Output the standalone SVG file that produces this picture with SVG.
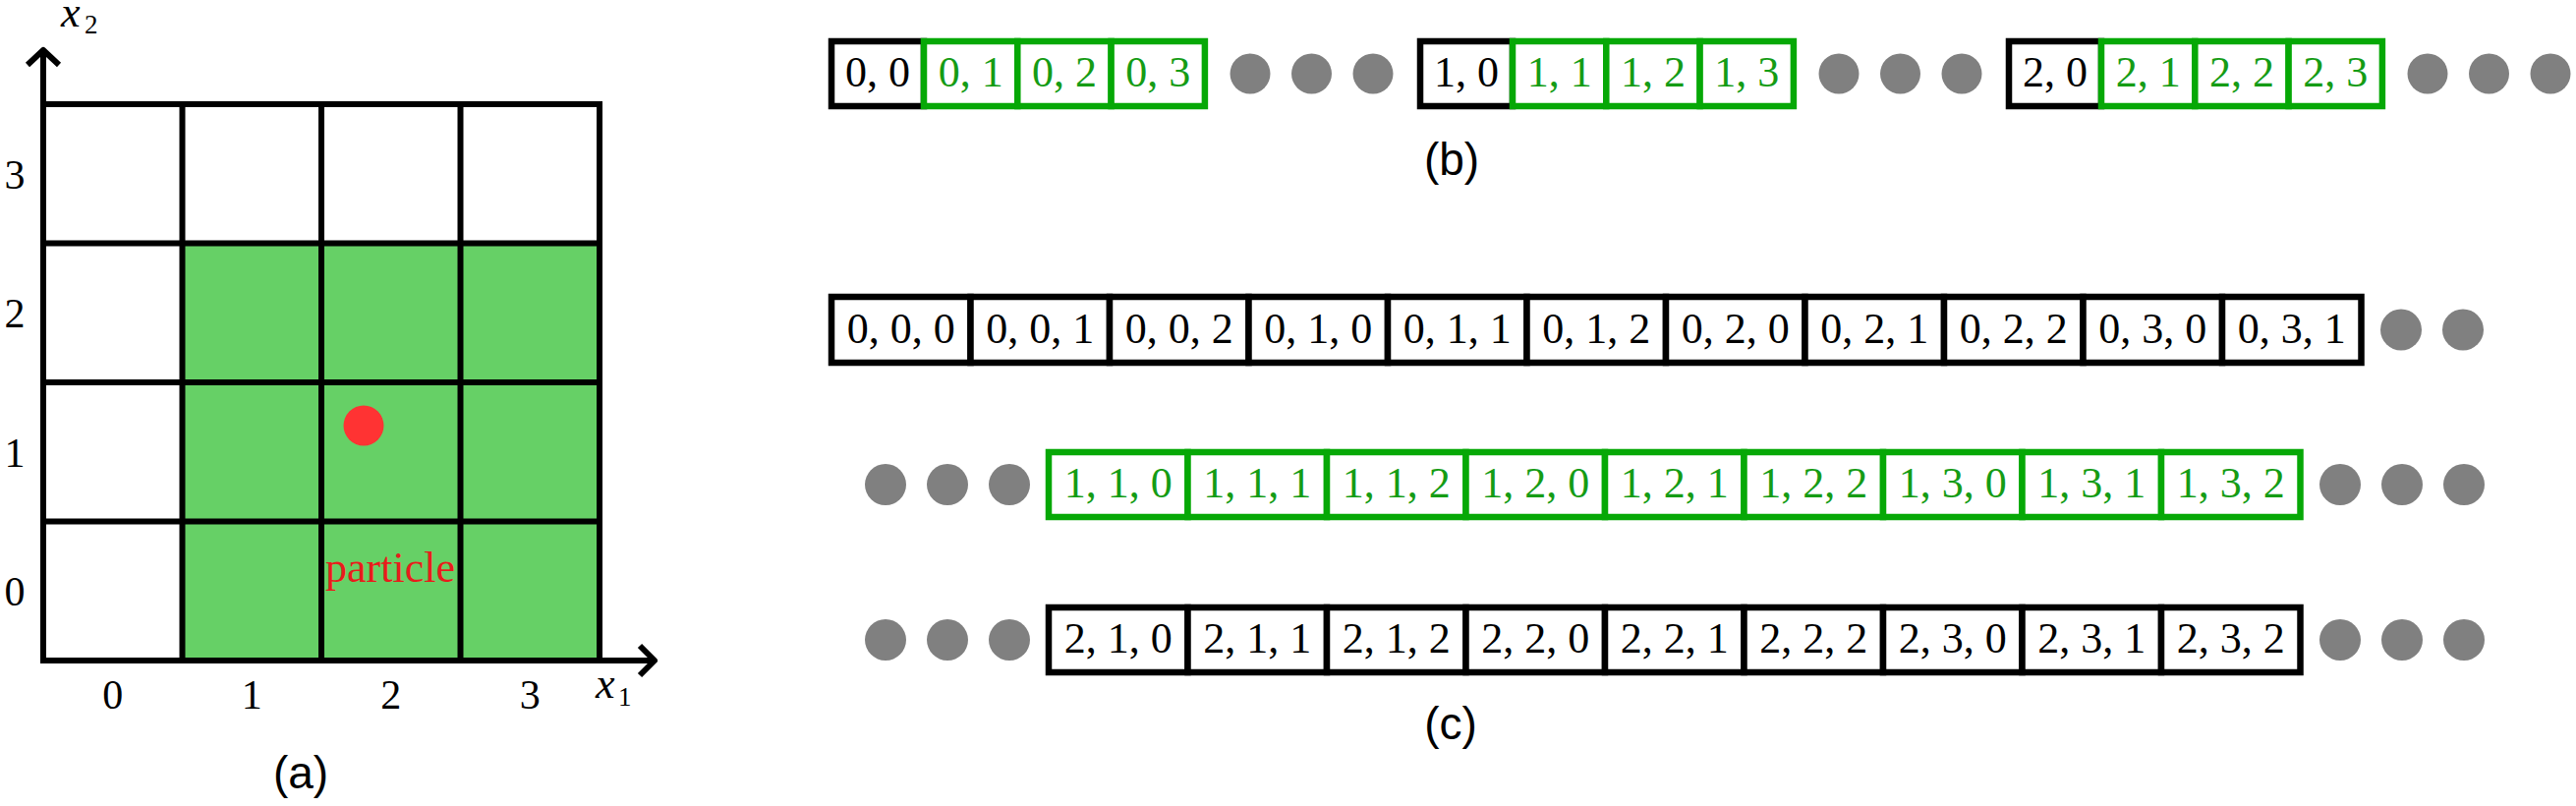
<svg xmlns="http://www.w3.org/2000/svg" width="2621" height="820" viewBox="0 0 2621 820">
<style>
.bg{fill:#ffffff}
.grid{stroke:#000;stroke-width:6;fill:none;stroke-linecap:square}
.axis{stroke:#000;stroke-width:6;fill:none}
.head{stroke:#000;stroke-width:6;fill:none;stroke-linejoin:round;stroke-linecap:butt}
.num{font-family:"Liberation Serif","Times New Roman",serif;font-size:42px;fill:#000;text-anchor:middle}
.ital{font-family:"Liberation Serif","Times New Roman",serif;font-style:italic;font-size:44px;fill:#000}
.sub{font-family:"Liberation Serif","Times New Roman",serif;font-size:27px;fill:#000}
.cap{font-family:"Liberation Sans",Arial,sans-serif;font-size:46px;fill:#000;text-anchor:middle}
.cb{fill:#fff;stroke:#000;stroke-width:6.5}
.cg{fill:#fff;stroke:#06a806;stroke-width:6.5}
.t{font-family:"Liberation Serif","Times New Roman",serif;font-size:44px;text-anchor:middle;fill:#000}
.tg{fill:#159c15}
.dot{fill:#808080}
</style>
<rect class="bg" x="0" y="0" width="2621" height="820"/>

<!-- Panel (a) -->
<g id="panel-a-fill">
<rect x="185.5" y="247.5" width="424.5" height="424.5" fill="#66d066"/>
</g>
<g id="panel-a-grid">
<line class="grid" x1="44" y1="106" x2="610" y2="106"/>
<line class="grid" x1="44" y1="247.5" x2="610" y2="247.5"/>
<line class="grid" x1="44" y1="389" x2="610" y2="389"/>
<line class="grid" x1="44" y1="530.5" x2="610" y2="530.5"/>
<line class="grid" x1="185.5" y1="106" x2="185.5" y2="672"/>
<line class="grid" x1="327" y1="106" x2="327" y2="672"/>
<line class="grid" x1="468.5" y1="106" x2="468.5" y2="672"/>
<line class="grid" x1="610" y1="106" x2="610" y2="672"/>
</g>
<g id="axes">
<line class="axis" x1="44" y1="675" x2="44" y2="51"/>
<polyline class="head" points="28,66 44,51 60,66"/>
<line class="axis" x1="41" y1="672" x2="666" y2="672"/>
<polyline class="head" points="651,657 666,672 651,687"/>
<text class="ital" x="62" y="27">x<tspan class="sub" x="86" y="34" font-style="normal">2</tspan></text>
<text class="ital" x="606" y="710">x<tspan class="sub" x="629" y="718" font-style="normal">1</tspan></text>
</g>
<g id="axis-labels">
<text class="num" x="114.75" y="721">0</text>
<text class="num" x="256.25" y="721">1</text>
<text class="num" x="397.75" y="721">2</text>
<text class="num" x="539.25" y="721">3</text>
<text class="num" x="15" y="192">3</text>
<text class="num" x="15" y="333">2</text>
<text class="num" x="15" y="475">1</text>
<text class="num" x="15" y="616">0</text>
</g>
<g id="particle">
<circle cx="370" cy="433" r="20.5" fill="#ff3333"/>
<text x="331" y="592" font-family="Liberation Serif, Times New Roman, serif" font-size="44" fill="#e81c1c">particle</text>
</g>
<text class="cap" x="306" y="802">(a)</text>

<!-- Panel (b) -->
<g id="b-group-0">
<rect class="cb" x="846" y="42" width="94" height="66"/>
<rect class="cg" x="940" y="42" width="95.3" height="66"/>
<rect class="cg" x="1035.3" y="42" width="95.3" height="66"/>
<rect class="cg" x="1130.6" y="42" width="95.3" height="66"/>
<text class="t" x="893" y="88">0, 0</text>
<text class="t tg" x="987.65" y="88">0, 1</text>
<text class="t tg" x="1082.95" y="88">0, 2</text>
<text class="t tg" x="1178.25" y="88">0, 3</text>
</g>
<g id="b-dots-0">
<circle class="dot" cx="1272" cy="75" r="20.5"/>
<circle class="dot" cx="1334.5" cy="75" r="20.5"/>
<circle class="dot" cx="1397" cy="75" r="20.5"/>
</g>
<g id="b-group-1">
<rect class="cb" x="1445" y="42" width="94" height="66"/>
<rect class="cg" x="1539" y="42" width="95.3" height="66"/>
<rect class="cg" x="1634.3" y="42" width="95.3" height="66"/>
<rect class="cg" x="1729.6" y="42" width="95.3" height="66"/>
<text class="t" x="1492" y="88">1, 0</text>
<text class="t tg" x="1586.65" y="88">1, 1</text>
<text class="t tg" x="1681.95" y="88">1, 2</text>
<text class="t tg" x="1777.25" y="88">1, 3</text>
</g>
<g id="b-dots-1">
<circle class="dot" cx="1871" cy="75" r="20.5"/>
<circle class="dot" cx="1933.5" cy="75" r="20.5"/>
<circle class="dot" cx="1996" cy="75" r="20.5"/>
</g>
<g id="b-group-2">
<rect class="cb" x="2044" y="42" width="94" height="66"/>
<rect class="cg" x="2138" y="42" width="95.3" height="66"/>
<rect class="cg" x="2233.3" y="42" width="95.3" height="66"/>
<rect class="cg" x="2328.6" y="42" width="95.3" height="66"/>
<text class="t" x="2091" y="88">2, 0</text>
<text class="t tg" x="2185.65" y="88">2, 1</text>
<text class="t tg" x="2280.95" y="88">2, 2</text>
<text class="t tg" x="2376.25" y="88">2, 3</text>
</g>
<g id="b-dots-2">
<circle class="dot" cx="2470" cy="75" r="20.5"/>
<circle class="dot" cx="2532.5" cy="75" r="20.5"/>
<circle class="dot" cx="2595" cy="75" r="20.5"/>
</g>
<text class="cap" x="1477" y="178">(b)</text>

<!-- Panel (c) row 1 -->
<g id="c-row-0">
<rect class="cb" x="846" y="302" width="141.5" height="67"/>
<rect class="cb" x="987.5" y="302" width="141.5" height="67"/>
<rect class="cb" x="1129" y="302" width="141.5" height="67"/>
<rect class="cb" x="1270.5" y="302" width="141.5" height="67"/>
<rect class="cb" x="1412" y="302" width="141.5" height="67"/>
<rect class="cb" x="1553.5" y="302" width="141.5" height="67"/>
<rect class="cb" x="1695" y="302" width="141.5" height="67"/>
<rect class="cb" x="1836.5" y="302" width="141.5" height="67"/>
<rect class="cb" x="1978" y="302" width="141.5" height="67"/>
<rect class="cb" x="2119.5" y="302" width="141.5" height="67"/>
<rect class="cb" x="2261" y="302" width="141.5" height="67"/>
<text class="t" x="916.75" y="348.5">0, 0, 0</text>
<text class="t" x="1058.25" y="348.5">0, 0, 1</text>
<text class="t" x="1199.75" y="348.5">0, 0, 2</text>
<text class="t" x="1341.25" y="348.5">0, 1, 0</text>
<text class="t" x="1482.75" y="348.5">0, 1, 1</text>
<text class="t" x="1624.25" y="348.5">0, 1, 2</text>
<text class="t" x="1765.75" y="348.5">0, 2, 0</text>
<text class="t" x="1907.25" y="348.5">0, 2, 1</text>
<text class="t" x="2048.75" y="348.5">0, 2, 2</text>
<text class="t" x="2190.25" y="348.5">0, 3, 0</text>
<text class="t" x="2331.75" y="348.5">0, 3, 1</text>
</g>
<g id="c-dots-0">
<circle class="dot" cx="2443" cy="335.5" r="21"/>
<circle class="dot" cx="2506" cy="335.5" r="21"/>
</g>

<!-- Panel (c) row 2 -->
<g id="c-dots-1l">
<circle class="dot" cx="901" cy="493" r="21"/>
<circle class="dot" cx="964" cy="493" r="21"/>
<circle class="dot" cx="1027" cy="493" r="21"/>
</g>
<g id="c-row-1">
<rect class="cg" x="1067" y="460" width="141.5" height="66"/>
<rect class="cg" x="1208.5" y="460" width="141.5" height="66"/>
<rect class="cg" x="1350" y="460" width="141.5" height="66"/>
<rect class="cg" x="1491.5" y="460" width="141.5" height="66"/>
<rect class="cg" x="1633" y="460" width="141.5" height="66"/>
<rect class="cg" x="1774.5" y="460" width="141.5" height="66"/>
<rect class="cg" x="1916" y="460" width="141.5" height="66"/>
<rect class="cg" x="2057.5" y="460" width="141.5" height="66"/>
<rect class="cg" x="2199" y="460" width="141.5" height="66"/>
<text class="t tg" x="1137.75" y="506">1, 1, 0</text>
<text class="t tg" x="1279.25" y="506">1, 1, 1</text>
<text class="t tg" x="1420.75" y="506">1, 1, 2</text>
<text class="t tg" x="1562.25" y="506">1, 2, 0</text>
<text class="t tg" x="1703.75" y="506">1, 2, 1</text>
<text class="t tg" x="1845.25" y="506">1, 2, 2</text>
<text class="t tg" x="1986.75" y="506">1, 3, 0</text>
<text class="t tg" x="2128.25" y="506">1, 3, 1</text>
<text class="t tg" x="2269.75" y="506">1, 3, 2</text>
</g>
<g id="c-dots-1r">
<circle class="dot" cx="2381" cy="493" r="21"/>
<circle class="dot" cx="2444" cy="493" r="21"/>
<circle class="dot" cx="2507" cy="493" r="21"/>
</g>

<!-- Panel (c) row 3 -->
<g id="c-dots-2l">
<circle class="dot" cx="901" cy="651" r="21"/>
<circle class="dot" cx="964" cy="651" r="21"/>
<circle class="dot" cx="1027" cy="651" r="21"/>
</g>
<g id="c-row-2">
<rect class="cb" x="1067" y="618" width="141.5" height="66"/>
<rect class="cb" x="1208.5" y="618" width="141.5" height="66"/>
<rect class="cb" x="1350" y="618" width="141.5" height="66"/>
<rect class="cb" x="1491.5" y="618" width="141.5" height="66"/>
<rect class="cb" x="1633" y="618" width="141.5" height="66"/>
<rect class="cb" x="1774.5" y="618" width="141.5" height="66"/>
<rect class="cb" x="1916" y="618" width="141.5" height="66"/>
<rect class="cb" x="2057.5" y="618" width="141.5" height="66"/>
<rect class="cb" x="2199" y="618" width="141.5" height="66"/>
<text class="t" x="1137.75" y="664">2, 1, 0</text>
<text class="t" x="1279.25" y="664">2, 1, 1</text>
<text class="t" x="1420.75" y="664">2, 1, 2</text>
<text class="t" x="1562.25" y="664">2, 2, 0</text>
<text class="t" x="1703.75" y="664">2, 2, 1</text>
<text class="t" x="1845.25" y="664">2, 2, 2</text>
<text class="t" x="1986.75" y="664">2, 3, 0</text>
<text class="t" x="2128.25" y="664">2, 3, 1</text>
<text class="t" x="2269.75" y="664">2, 3, 2</text>
</g>
<g id="c-dots-2r">
<circle class="dot" cx="2381" cy="651" r="21"/>
<circle class="dot" cx="2444" cy="651" r="21"/>
<circle class="dot" cx="2507" cy="651" r="21"/>
</g>
<text class="cap" x="1476" y="752">(c)</text>
</svg>
